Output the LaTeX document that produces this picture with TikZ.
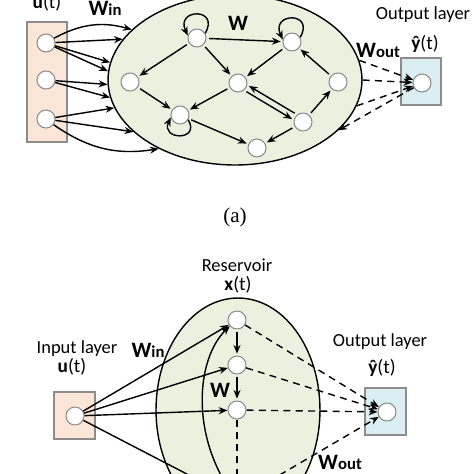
\documentclass[tikz,border=0pt]{standalone}
\usepackage{fontspec}
\setmainfont{Carlito}
\newfontfamily\capfont{Liberation Serif}
\usetikzlibrary{shapes.geometric,arrows.meta}

\definecolor{inpeach}{RGB}{251,229,214}
\definecolor{outblue}{RGB}{218,238,243}
\definecolor{resgreen}{RGB}{235,241,222}
\definecolor{nodegray}{RGB}{140,140,140}

% weight label: big bold W with a smaller bold index
\newcommand{\wlab}[1]{{\bfseries\fontsize{12.5}{14}\selectfont W\fontsize{9.5}{11}\selectfont #1}}

\begin{document}
\begin{tikzpicture}[x=0.02cm, y=0.02cm,
  neuron/.style={circle, draw=nodegray, fill=white, line width=0.6pt, minimum size=0.36cm, inner sep=0pt},
  inbox/.style={rectangle, draw=nodegray, fill=inpeach, line width=0.7pt, inner sep=0pt},
  outbox/.style={rectangle, draw=nodegray, fill=outblue, line width=0.7pt, inner sep=0pt},
  reservoir/.style={ellipse, draw=black, fill=resgreen, line width=0.8pt, inner sep=0pt},
  arr/.style={-{Stealth[length=5pt,width=4pt]}, line width=0.8pt},
  darr/.style={arr, dash pattern=on 4pt off 3pt},
  iarr/.style={arr, shorten <=1.5pt, shorten >=1pt},
  lbl/.style={font=\fontsize{10.5}{12}\selectfont, inner sep=0pt},
]

\clip (0,0) rectangle (474,-474);

% ================= (a) =================

% --- Layers ---
\node[reservoir, minimum width=5.08cm, minimum height=3.4cm] (resA) at (235,-80) {};
\node[inbox, minimum width=0.8cm, minimum height=2.4cm] (inA) at (47,-82) {};
\node[outbox, minimum width=0.8cm, minimum height=0.94cm] (outboxA) at (421,-81.5) {};

% --- Neurons ---
\node[neuron] (u1) at (46,-43) {};
\node[neuron] (u2) at (46,-80) {};
\node[neuron] (u3) at (46,-119) {};

\node[neuron] (n1) at (197,-38) {};
\node[neuron] (n2) at (292,-42) {};
\node[neuron] (n3) at (130,-82) {};
\node[neuron] (n4) at (238,-83) {};
\node[neuron] (n5) at (338,-82) {};
\node[neuron] (n6) at (180,-115) {};
\node[neuron] (n7) at (303,-122) {};
\node[neuron] (n8) at (257,-148) {};

\node[neuron] (outA) at (422,-83) {};

% --- Input weights ---
\draw[arr] (u1) to[bend left=22] (resA.154);
\draw[arr] (u1) -- (resA.160);
\draw[arr] (u1) -- (resA.172);
\draw[arr] (u1) -- (resA.176);
\draw[arr] (u2) -- (resA.182);
\draw[arr] (u2) -- (resA.188);
\draw[arr] (u3) -- (resA.193);
\draw[arr] (u3) -- (resA.207);
\draw[arr] (u3) to[bend right=22] (resA.222);

% --- Reservoir connections ---
\draw[iarr] (n1) -- (n2);
\draw[iarr] (n1) -- (n3);
\draw[iarr] (n1) -- (n4);
\draw[iarr] (n2) -- (n4);
\draw[iarr] (n5) -- (n2);
\draw[iarr] (n3) -- (n6);
\draw[iarr] (n4) -- (n6);
\draw[iarr] (n7.129) -- (n4.-12);
\draw[iarr] (n4.-50) -- (n7.168);
\draw[iarr] (n7) -- (n5);
\draw[iarr] (n7) -- (n8);
\draw[iarr] (n6) -- (n8);

% self loops
\draw[arr] (n1.30) .. controls +(60:0.6cm) and +(115:0.6cm) .. (n1.165);
\draw[arr] (n2.30) .. controls +(60:0.6cm) and +(115:0.6cm) .. (n2.165);
\draw[arr] (n6.-30) .. controls +(-60:0.5cm) and +(-115:0.5cm) .. (n6.-165);

% --- Output weights ---
\draw[darr] (resA.9) -- (outA);
\draw[darr] (resA.0) -- (outA);
\draw[darr] (resA.-12) -- (outA);
\draw[darr] (outA) -- (resA.-26);

% --- Labels ---
\node[lbl, anchor=base, font=\fontsize{11}{13}\selectfont] (uAlab) at (47,-8) {\textbf{u}(t)};
\node[lbl] (winA) at (105,-8) {\wlab{in}};
\node[lbl] (wA) at (238,-23) {\wlab{}};
\node[lbl] (outlayA) at (423,-15) {Output layer};
\node[lbl, font=\fontsize{11}{13}\selectfont] (yA) at (425,-44) {\textbf{ŷ}(t)};
\node[lbl] (woutA) at (378,-50) {\wlab{out}};
\node[lbl, font=\capfont\fontsize{12}{14}\selectfont] (capA) at (235,-217) {(a)};

% ================= (b) =================

% --- Layers ---
\node[reservoir, minimum width=3.28cm, minimum height=4.48cm] (resB) at (238,-410) {};
\node[inbox, minimum width=0.82cm, minimum height=0.94cm] (inB) at (74.5,-415.5) {};
\node[outbox, minimum width=0.82cm, minimum height=0.94cm] (outboxB) at (385.5,-411.5) {};

% --- Neurons ---
\node[neuron] (uB) at (75,-416) {};
\node[neuron] (x1) at (237,-320) {};
\node[neuron] (x2) at (237,-365) {};
\node[neuron] (x3) at (237,-410) {};
\coordinate (x4) at (237,-500);  % below the visible part
\node[neuron] (yB) at (387,-412) {};

% --- Input weights ---
\draw[arr] (uB) -- (x1);
\draw[arr] (uB) -- (x2);
\draw[arr] (uB) -- (x3);
\draw[arr] (uB) -- (x4);

% --- Reservoir chain ---
\draw[iarr] (x1) -- (x2);
\draw[iarr] (x2) -- (x3);
\draw[line width=0.8pt, dash pattern=on 4pt off 3pt] (x3) -- (x4);
\draw[arr] (x4) .. controls (190,-440) and (195,-360) .. (x1.220);

% --- Output weights ---
\draw[darr] (x1) -- (yB);
\draw[darr] (x2) -- (yB);
\draw[darr] (x3) -- (yB);
\draw[darr] (x4) -- (yB);

% --- Labels ---
\node[lbl] (reslab) at (237,-265) {Reservoir};
\node[lbl, font=\fontsize{11}{13}\selectfont] (xlab) at (238,-285) {\textbf{x}(t)};
\node[lbl] (inlayB) at (77,-349) {Input layer};
\node[lbl, font=\fontsize{11}{13}\selectfont] (uBlab) at (72,-367) {\textbf{u}(t)};
\node[lbl] (winB) at (148,-350) {\wlab{in}};
\node[lbl] (wB) at (220,-390) {\wlab{}};
\node[lbl] (outlayB) at (380,-342) {Output layer};
\node[lbl, font=\fontsize{11}{13}\selectfont] (yBlab) at (382,-368) {\textbf{ŷ}(t)};
\node[lbl] (woutB) at (340,-462) {\wlab{out}};

\end{tikzpicture}
\end{document}
